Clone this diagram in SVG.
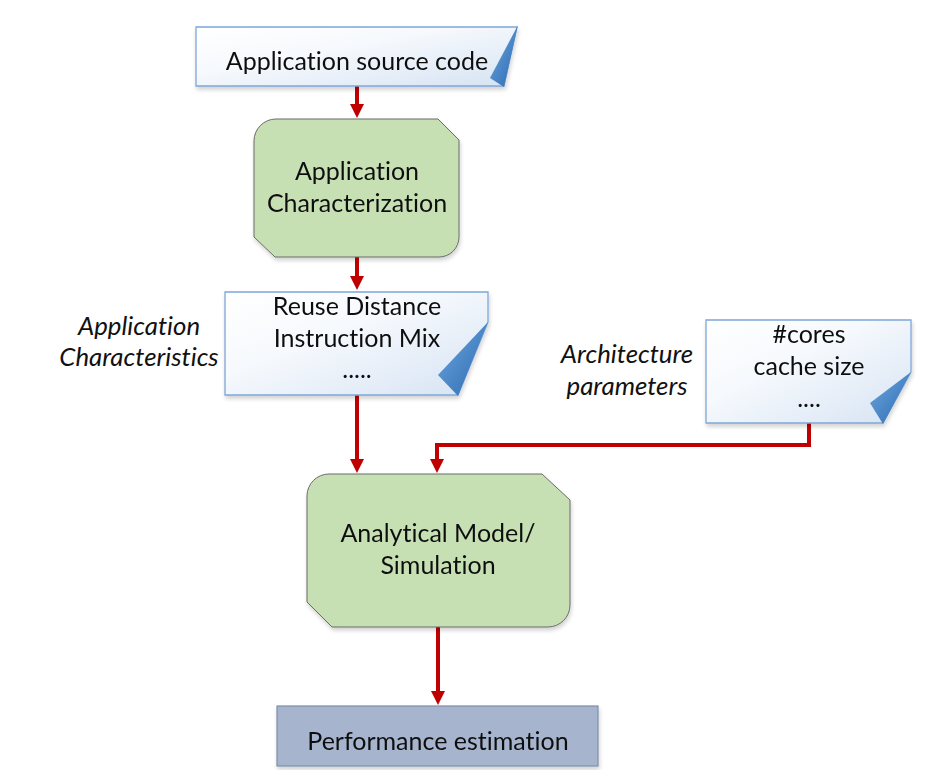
<svg xmlns="http://www.w3.org/2000/svg" width="942" height="770" viewBox="0 0 942 770">
<defs>
<style>
.txt{font-family:Lato,"Open Sans","Liberation Sans",sans-serif;font-size:25px;fill:#111;text-anchor:middle;font-variant-ligatures:none}
.it{font-style:italic;font-size:25.8px}
.doc{fill:url(#docg);stroke:#7FA7D8;stroke-width:1.3}
.curl{fill:url(#curlg);stroke:none}
.proc{fill:#C6E0B4;stroke:#6B6B6B;stroke-width:1}
.perf{fill:#A6B5CD;stroke:#7F8FA8;stroke-width:1.2}
.con{fill:none;stroke:#C00000;stroke-width:4}
</style>
<linearGradient id="docg" x1="0" y1="0" x2="1" y2="1">
<stop offset="0" stop-color="#FFFFFF"/>
<stop offset="0.4" stop-color="#F6F9FD"/>
<stop offset="1" stop-color="#D6E3F3"/>
</linearGradient>
<linearGradient id="curlg" x1="0" y1="0" x2="1" y2="1">
<stop offset="0" stop-color="#6FA8E0"/>
<stop offset="1" stop-color="#2B69B0"/>
</linearGradient>
<filter id="sh" x="-10%" y="-10%" width="130%" height="130%">
<feGaussianBlur in="SourceAlpha" stdDeviation="2"/>
<feOffset dx="1" dy="3" result="b"/>
<feComponentTransfer><feFuncA type="linear" slope="0.18"/></feComponentTransfer>
<feMerge><feMergeNode/><feMergeNode in="SourceGraphic"/></feMerge>
</filter>
<marker id="ah" viewBox="0 0 14 14" refX="2" refY="7" markerWidth="14" markerHeight="14" markerUnits="userSpaceOnUse" orient="auto">
<path d="M0,0 L14,7 L0,14 Z" fill="#C00000"/>
</marker>
</defs>
<rect width="942" height="770" fill="#FFFFFF"/>

<g id="connectors">
<path class="con" d="M357,86 V106" marker-end="url(#ah)"/>
<path class="con" d="M357,257 V278" marker-end="url(#ah)"/>
<path class="con" d="M357,395 V461" marker-end="url(#ah)"/>
<path class="con" d="M809,423 V445 H437 V461" marker-end="url(#ah)"/>
<path class="con" d="M438,627 V693" marker-end="url(#ah)"/>
</g>

<g id="source-code" filter="url(#sh)">
<path class="doc" d="M196,27 H517 L504,86 H196 Z"/>
<path class="curl" d="M518,25 L490,78 L504,87 Z"/>
<text class="txt" x="357" y="70">Application source code</text>
</g>

<g id="app-char" filter="url(#sh)">
<path class="proc" d="M276,119 H438 L459,140 V237 A20,20 0 0 1 439,257 H275 L254,237 V141 A22,22 0 0 1 276,119 Z"/>
<text class="txt" x="357" y="180">Application</text>
<text class="txt" x="357" y="212">Characterization</text>
</g>

<g id="app-chars" filter="url(#sh)">
<path class="doc" d="M225,292 H488 V322 L458,395 H225 Z"/>
<path class="curl" d="M488,322 L438,375 L458,396 Z"/>
<text class="txt" x="357" y="315">Reuse Distance</text>
<text class="txt" x="357" y="347">Instruction Mix</text>
<text class="txt" x="357" y="378">.....</text>
</g>
<g id="app-chars-label">
<text class="txt it" x="139" y="335">Application</text>
<text class="txt it" x="139" y="366">Characteristics</text>
</g>

<g id="arch-params" filter="url(#sh)">
<path class="doc" d="M706,320 H911 V372 L883,423 H706 Z"/>
<path class="curl" d="M911,372 L870,403 L883,424 Z"/>
<text class="txt" x="809" y="343">#cores</text>
<text class="txt" x="809" y="375">cache size</text>
<text class="txt" x="809" y="407">....</text>
</g>
<g id="arch-label">
<text class="txt it" x="627" y="363">Architecture</text>
<text class="txt it" x="627" y="395">parameters</text>
</g>

<g id="model" filter="url(#sh)">
<path class="proc" d="M329,474 H542 L570,500 V605 A22,22 0 0 1 548,627 H332 L307,602 V496 A22,22 0 0 1 329,474 Z"/>
<text class="txt" x="438" y="542">Analytical Model/</text>
<text class="txt" x="438" y="574">Simulation</text>
</g>

<g id="perf" filter="url(#sh)">
<rect class="perf" x="277" y="706" width="321" height="60"/>
<text class="txt" x="438" y="750">Performance estimation</text>
</g>
</svg>
